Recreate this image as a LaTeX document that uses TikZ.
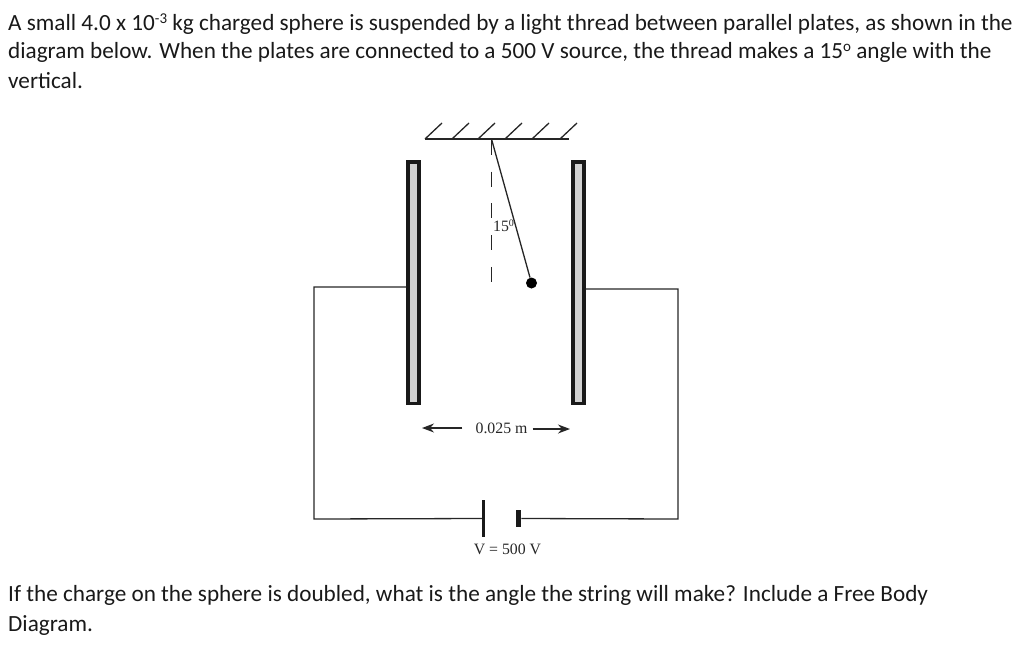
\documentclass[tikz,border=0pt]{standalone}
\usepackage{fontspec}
\usetikzlibrary{arrows.meta}
\setmainfont{Carlito}
\newfontfamily\figfont{Liberation Serif}
\newcommand{\uptext}[1]{\raisebox{6.5pt}{\fontsize{15}{15}\selectfont #1}}
\begin{document}
\begin{tikzpicture}[x=1pt, y=-1pt,
	question/.style={anchor=base west, inner sep=0pt, font=\fontsize{23.2}{26}\selectfont, text=black!90},
	plate/.style={draw=black!90, line width=3.5pt, fill=black!18, minimum width=10.8pt, minimum height=241.5pt, inner sep=0pt},
	wire/.style={draw=black!85, line width=1.3pt},
	caption/.style={inner sep=0pt, font=\figfont\fontsize{15.8}{18}\selectfont, text=black!85},
	gap/.style={draw=black!85, line width=1.3pt, -{Stealth[length=12pt, width=9pt]}}]
	\useasboundingbox (0, 0) rectangle (1030, 648);
	
	\node[question] (line-0) at (8, 30) {A small 4.0 x 10\uptext{-3} kg charged sphere is suspended by a light thread between parallel plates, as shown in the};
	\node[question] (line-1) at (8, 58) {diagram below. When the plates are connected to a 500 V source, the thread makes a 15\uptext{o} angle with the};
	\node[question] (line-2) at (8, 88) {vertical.};
	\node[question] (line-3) at (8, 601) {If the charge on the sphere is doubled, what is the angle the string will make? Include a Free Body};
	\node[question] (line-4) at (8, 631) {Diagram.};
	
	% ceiling
	\coordinate (roof-l) at (425, 139);
	\coordinate (roof-r) at (569, 139);
	\coordinate (pivot) at (491.5, 139);
	\draw[wire] (roof-l) -- (roof-r);
	\foreach \hx in {425, 452, 478, 505, 532, 560}
		\draw[wire] (\hx, 139) -- ++(17, -16);
	
	% pendulum
	\node[circle, fill=black, minimum size=11pt, inner sep=0pt] (sphere) at (531.5, 283) {};
	\coordinate (plumb) at (491.5, 282);
	\draw[wire, dash pattern=on 15pt off 16.7pt] (pivot) ++(0, 1) -- (plumb);
	\draw[wire] (pivot) -- (sphere);
	\node[caption] (angle) at (503.5, 226) {15\raisebox{5pt}{\fontsize{10}{10}\selectfont 0}};
	
	% plates
	\node[plate] (plate-l) at (413.5, 282.5) {};
	\node[plate] (plate-r) at (578.5, 282.5) {};
	
	% separation
	\node[caption] (gap-text) at (501.5, 428) {0.025 m};
	\coordinate (gap-l) at (422, 428);
	\coordinate (gap-r) at (570, 429);
	\draw[gap] (gap-text.west) ++(-13, 0) -- (gap-l);
	\draw[gap] (gap-text.east) ++(5, 1) -- (gap-r);
	
	% battery
	\node[fill=black!90, minimum width=3pt, minimum height=37pt, inner sep=0pt] (cell-l) at (483.5, 518.5) {};
	\node[fill=black!90, minimum width=5.5pt, minimum height=17pt, inner sep=0pt] (cell-r) at (518.5, 518.5) {};
	\node[caption] (volts) at (507.5, 549) {V = 500 V};
	
	% circuit
	\draw[wire] (plate-l.west |- 0, 287) -- (314, 287) -- (314, 519) -- (cell-l.west);
	\draw[wire] (cell-r.east) -- (678, 519) -- (678, 289) -- (plate-r.east |- 0, 289);
\end{tikzpicture}
\end{document}
